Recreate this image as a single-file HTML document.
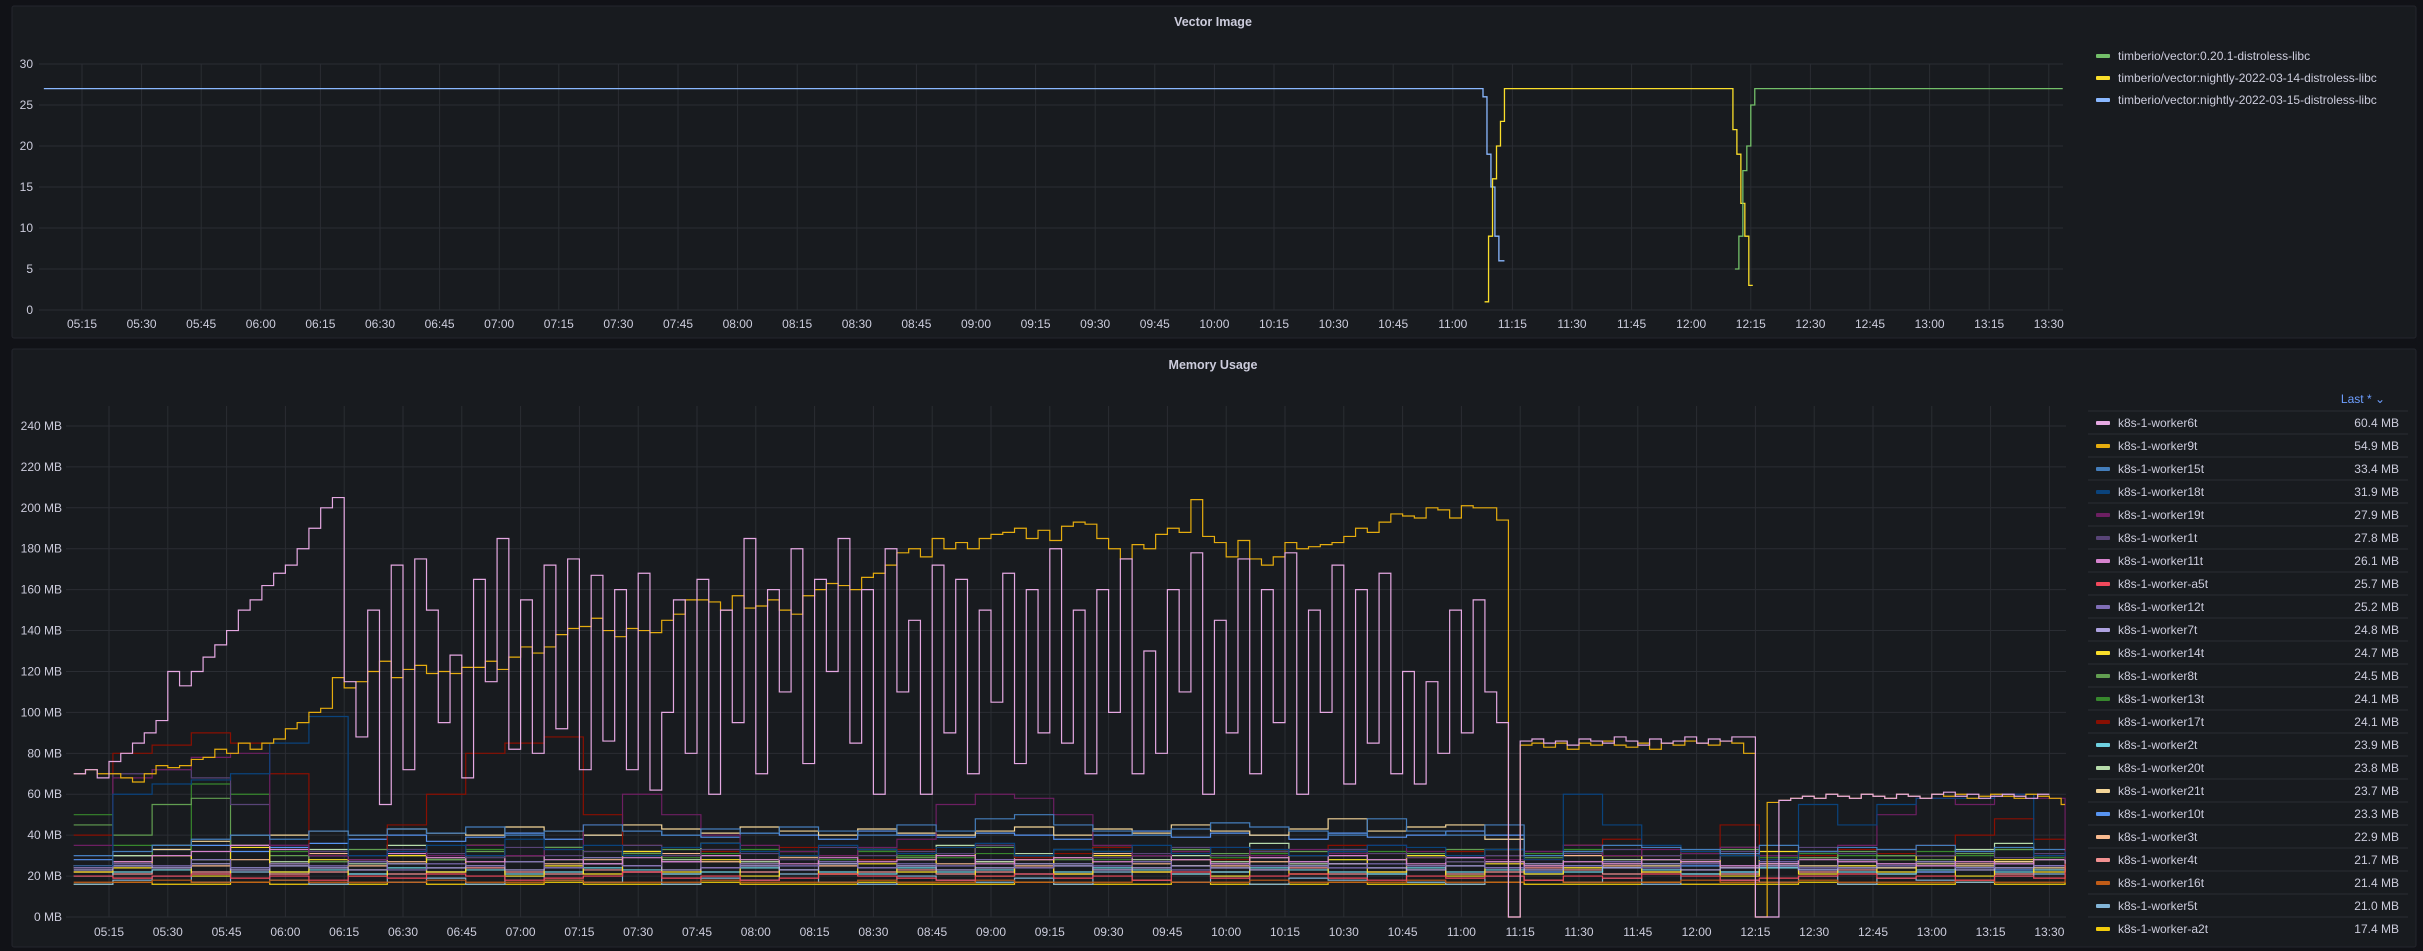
<!DOCTYPE html>
<html><head><meta charset="utf-8"><style>
html,body{margin:0;padding:0;background:#111217;}
svg{display:block;font-family:"Liberation Sans",sans-serif;}
</style></head><body>
<svg id="s" width="2423" height="951" viewBox="0 0 2423 951" xmlns="http://www.w3.org/2000/svg">
<rect x="0" y="0" width="2423" height="951" fill="#111217"/>
<rect x="12" y="6" width="2404" height="332" rx="2" fill="#181b1f" stroke="#24262d"/>
<rect x="12" y="349" width="2404" height="598" rx="2" fill="#181b1f" stroke="#24262d"/>
<text x="1213" y="26" text-anchor="middle" fill="#ccccdc" font-size="12.5" font-weight="bold">Vector Image</text>
<text x="1213" y="369" text-anchor="middle" fill="#ccccdc" font-size="12.5" font-weight="bold">Memory Usage</text>
<g id="topchart"></g><g id="botchart"></g><g id="legs"></g>
</svg>
<script>
// ---------- top chart data (t = minutes after 05:00) ----------
const topNames=["timberio/vector:0.20.1-distroless-libc","timberio/vector:nightly-2022-03-14-distroless-libc","timberio/vector:nightly-2022-03-15-distroless-libc"];
const topColors=["#73bf69","#fade2a","#8ab8ff"];
const greenT=[431,432,433,434,435,436,513.5];
const greenV=[5,9,17,20,25,27,27];
const yellowT=[368,369,370,371,372,373,430.5,431.5,432.5,433.5,434.5,435.5];
const yellowV=[1,9,16,20,23,27,22,19,13,9,3,3];
const blueT=[5.4,367.6,368.6,369.6,370.6,371.6,373];
const blueV=[27,26,19,15,9,6,6];
const topYTicks=[0,5,10,15,20,25,30];
const timeTicks=["05:15","05:30","05:45","06:00","06:15","06:30","06:45","07:00","07:15","07:30","07:45","08:00","08:15","08:30","08:45","09:00","09:15","09:30","09:45","10:00","10:15","10:30","10:45","11:00","11:15","11:30","11:45","12:00","12:15","12:30","12:45","13:00","13:15","13:30"];

// ---------- bottom chart data ----------
const botYTicks=[0,20,40,60,80,100,120,140,160,180,200,220,240];
const names=["k8s-1-worker6t","k8s-1-worker9t","k8s-1-worker15t","k8s-1-worker18t","k8s-1-worker19t","k8s-1-worker1t","k8s-1-worker11t","k8s-1-worker-a5t","k8s-1-worker12t","k8s-1-worker7t","k8s-1-worker14t","k8s-1-worker8t","k8s-1-worker13t","k8s-1-worker17t","k8s-1-worker2t","k8s-1-worker20t","k8s-1-worker21t","k8s-1-worker10t","k8s-1-worker3t","k8s-1-worker4t","k8s-1-worker16t","k8s-1-worker5t","k8s-1-worker-a2t"];
const lastVals=["60.4 MB","54.9 MB","33.4 MB","31.9 MB","27.9 MB","27.8 MB","26.1 MB","25.7 MB","25.2 MB","24.8 MB","24.7 MB","24.5 MB","24.1 MB","24.1 MB","23.9 MB","23.8 MB","23.7 MB","23.3 MB","22.9 MB","21.7 MB","21.4 MB","21.0 MB","17.4 MB"];
const colors=["#e5a8e2","#e5ac0e","#447ebc","#0a437c","#6d1f62","#584477","#d683ce","#f2495c","#806eb7","#aea2e0","#fade2a","#629e51","#37872d","#890f02","#6ed0e0","#b7dbab","#f4d598","#5794f2","#f9ba8f","#f29191","#c15c17","#82b5d8","#f2cc0c"];
// 3-minute samples from 05:06
const w6=[70,72,68,76,80,85,90,96,120,113,120,127,133,140,150,155,162,168,172,180,190,200,
205,115,
88,150,55,172,72,175,150,95,128,68,165,115,185,82,155,80,172,92,175,72,167,86,160,72,168,62,100,155,80,165,60,150,95,185,70,160,110,180,75,165,120,185,85,160,60,180,110,145,60,172,90,165,70,150,105,168,75,160,90,180,85,150,70,160,100,175,70,130,80,160,110,178,60,145,90,175,70,160,95,178,60,150,100,172,65,160,85,168,70,120,65,115,80,150,90,155,110,95,
0,86,87,85,86,84,87,86,85,88,86,84,87,85,86,88,85,87,86,88,88,0,0,57,58,59,58,60,59,58,60,59,58,60,59,58,60,61,59,60,58,59,60,59,58,60];
const w9=[70,72,70,70,68,66,70,74,73,74,77,78,82,80,85,82,85,87,92,95,100,102,117,112,115,120,125,117,121,123,119,120,119,122,122,125,121,127,132,129,132,138,141,142,146,140,137,141,140,139,145,148,155,155,154,150,157,151,152,155,150,148,157,160,163,162,160,166,168,172,178,180,176,185,180,183,180,185,187,188,190,185,189,184,191,193,192,185,180,175,182,180,187,190,188,204,186,183,176,184,175,172,176,183,180,181,182,183,186,190,188,193,197,196,195,200,199,195,201,200,200,194,
0,84,85,83,85,82,85,84,86,84,83,85,82,85,84,86,85,84,86,85,80,0,56,57,58,59,58,60,59,58,60,59,58,60,59,58,60,59,60,58,59,60,59,58,60,59,58,55];
// 10-minute samples from 05:06
const w15=[30,32,35,38,40,38,42,40,43,41,44,40,42,45,42,40,43,41,44,42,40,45,42,48,50,45,42,40,43,46,44,42,40,48,42,40,45,30,32,35,34,33,31,35,32,34,33,35,32,34,33,33];
const w18=[25,60,65,67,70,85,98,30,32,35,30,38,33,35,30,34,36,32,30,35,33,31,34,36,30,33,32,35,31,34,33,30,32,35,34,30,33,28,60,45,35,32,30,28,55,45,55,58,58,60,30,32];
const w19=[35,68,72,78,80,35,30,28,32,30,35,30,33,45,60,50,40,35,32,30,34,38,55,60,58,50,35,30,32,34,30,33,31,35,32,30,28,32,35,30,33,31,34,30,32,35,50,58,55,60,58,28];
const w1=[30,70,72,68,55,35,32,30,33,31,29,34,30,32,35,30,33,31,28,34,30,32,31,35,30,33,29,31,34,30,32,30,33,31,29,27,30,32,31,33,30,28,32,30,34,31,33,30,32,29,31,28];
const w11=[25,27,30,32,35,33,30,28,31,29,27,30,28,26,29,27,30,28,26,29,27,28,30,26,28,29,27,30,28,26,29,27,30,28,26,29,27,25,27,26,28,27,25,26,28,27,26,25,27,26,28,26];
const wa5=[20,19,20,21,19,20,18,20,19,21,20,18,19,20,22,19,20,18,19,21,20,19,18,20,21,19,20,18,22,19,20,21,19,18,20,19,20,18,20,19,21,20,18,19,20,21,19,20,18,20,19,26];
const w12=[24,26,25,28,24,26,25,27,23,26,25,27,24,29,25,27,24,26,25,27,24,26,25,28,24,26,25,27,23,26,25,27,24,26,25,29,24,26,25,27,24,26,25,27,24,28,25,27,24,26,25,25];
const w7=[23,25,24,26,23,25,24,23,26,24,25,23,24,26,25,23,24,25,23,26,24,25,23,24,26,25,23,24,25,24,23,25,26,24,23,25,24,23,25,24,26,23,24,25,23,24,26,25,23,24,25,25];
const w14=[22,24,30,20,34,22,28,20,30,22,35,20,25,21,32,22,28,20,30,21,26,22,34,20,28,21,30,22,25,20,32,21,28,22,30,20,26,21,24,30,22,28,20,32,21,25,22,30,20,28,22,25];
const w8=[45,40,55,58,35,30,27,33,30,28,32,30,34,29,31,33,30,28,32,30,33,29,31,34,30,28,32,30,33,31,29,32,30,28,31,33,30,29,32,30,28,31,33,30,29,32,30,28,31,33,30,24];
const w13=[50,35,30,65,60,32,30,28,31,29,33,30,28,32,30,29,31,33,30,28,32,30,29,31,30,33,28,30,32,29,31,30,28,32,30,29,27,31,33,30,28,32,30,29,31,30,28,32,30,33,29,24];
const w17=[40,80,84,90,85,70,30,28,45,60,80,85,88,50,35,30,32,28,34,30,28,33,30,35,29,31,34,30,32,28,33,30,35,31,29,32,30,28,35,38,30,32,45,28,30,33,31,35,40,48,38,24];
const w2=[20,22,23,21,24,22,23,21,24,22,23,21,22,24,23,21,22,24,23,22,21,24,22,23,21,22,24,23,21,22,24,23,22,21,24,22,23,21,22,24,23,21,22,24,23,22,21,23,24,22,23,24];
const w20=[25,30,35,28,40,27,33,26,35,28,30,27,34,26,32,28,36,27,30,26,33,28,35,27,31,26,34,28,30,27,36,26,32,28,30,27,33,26,35,28,30,27,34,26,32,28,30,27,33,36,28,24];
const w21=[25,30,33,37,35,40,42,40,43,41,40,44,42,40,45,43,41,44,42,40,43,41,40,42,44,40,43,41,45,42,40,43,48,42,44,45,38,25,24,26,25,27,24,26,25,28,24,26,25,27,24,24];
const w10=[28,30,33,35,32,34,36,38,40,37,39,41,38,40,42,40,39,41,40,38,42,40,39,41,40,38,40,42,39,41,40,38,41,39,40,42,40,22,25,24,23,25,22,24,23,25,24,22,24,23,25,23];
const w3=[24,27,30,25,28,26,31,25,27,29,25,30,26,28,25,31,27,26,29,25,28,30,26,27,25,29,31,26,28,25,27,30,26,28,25,29,27,26,30,25,28,27,31,26,29,25,28,30,26,27,25,23];
const w4=[22,21,23,22,24,21,22,23,21,22,24,22,21,23,22,21,24,22,23,21,22,23,21,22,24,21,23,22,21,22,23,24,21,22,23,21,22,24,23,21,22,23,21,24,22,23,21,22,24,21,23,22];
const w16=[17,17,18,17,17,18,17,17,17,18,17,17,18,17,17,17,18,17,17,17,18,17,17,18,17,17,17,18,17,17,18,17,17,17,18,17,17,18,17,17,17,18,17,17,18,17,17,17,18,17,17,21];
const w5=[16,18,20,17,22,18,16,21,17,19,16,20,18,17,22,16,19,18,21,17,16,20,18,17,19,16,22,18,17,20,16,19,18,21,17,16,20,18,17,19,16,21,18,17,20,16,19,18,17,20,21,21];
const wa2=[16,17,16,16,17,16,16,16,17,16,16,16,17,16,16,16,17,16,16,16,17,16,16,16,17,16,16,16,17,16,16,16,17,16,16,16,17,16,16,16,17,16,16,16,17,16,16,16,17,16,16,17];

const NS="http://www.w3.org/2000/svg";
function mk(tag,attrs,parent){const e=document.createElementNS(NS,tag);for(const k in attrs)e.setAttribute(k,attrs[k]);parent.appendChild(e);return e;}
function tickMin(s){const p=s.split(":");return (+p[0]-5)*60+(+p[1]);}
function stepPath(T,V,fx,fy){let d='';for(let i=0;i<T.length;i++){const x=fx(T[i]),y=fy(V[i]);if(i===0)d+='M'+x+' '+y;else{d+=' L'+x+' '+fy(V[i-1])+' L'+x+' '+y;}}return d;}

// ---------- top chart ----------
const TX0=82,TPX=59.6/15,TY0=310,TPY=246/30;
function tx(t){return TX0+(t-15)*TPX;}
function ty(v){return TY0-v*TPY;}
const topG=document.getElementById('topchart');
topYTicks.forEach(v=>{
  const l=mk('line',{x1:39,x2:2063,y1:ty(v),y2:ty(v),stroke:'#2a2d33','stroke-width':1},topG);
  
  
  const t=mk('text',{x:33,y:ty(v)+4,'text-anchor':'end',fill:'#ccccdc','font-size':12},topG);
  t.textContent=v;
  
  
});
timeTicks.forEach(s=>{
  const x=tx(tickMin(s));
  const l=mk('line',{x1:x,x2:x,y1:64,y2:310,stroke:'#2a2d33','stroke-width':1},topG);
  
  
  const t=mk('text',{x:x,y:328,'text-anchor':'middle',fill:'#ccccdc','font-size':12},topG);
  t.textContent=s;
  
  
});
[[blueT,blueV,2],[yellowT,yellowV,1],[greenT,greenV,0]].forEach(([T,V,ci])=>{
  const p=mk('path',{d:stepPath(T,V,tx,ty),fill:'none',stroke:topColors[ci],'stroke-width':1.3},topG);
  
  
});
const legs=document.getElementById('legs');
topNames.forEach((n,i)=>{
  const y=56+22*i;
  const g=mk('g',{},legs);
  
  
  mk('rect',{x:2096,y:y-2,width:14,height:4,rx:1,fill:topColors[i]},g);
  const t=mk('text',{x:2118,y:y+4,fill:'#ccccdc','font-size':12},g);
  t.textContent=n;
});

// ---------- bottom chart ----------
const BX0=109,BPX=58.8/15,BY0=917,BPY=2.046;
function bx(t){return BX0+(t-15)*BPX;}
function by(v){return BY0-v*BPY;}
const botG=document.getElementById('botchart');
botYTicks.forEach(v=>{
  const l=mk('line',{x1:66,x2:2066,y1:by(v),y2:by(v),stroke:'#2a2d33','stroke-width':1},botG);
  
  
  const t=mk('text',{x:62,y:by(v)+4,'text-anchor':'end',fill:'#ccccdc','font-size':12},botG);
  t.textContent=v+' MB';
  
  
});
timeTicks.forEach(s=>{
  const x=bx(tickMin(s));
  const l=mk('line',{x1:x,x2:x,y1:406,y2:917,stroke:'#2a2d33','stroke-width':1},botG);
  
  
  const t=mk('text',{x:x,y:936,'text-anchor':'middle',fill:'#ccccdc','font-size':12},botG);
  t.textContent=s;
  
  
});
const series=[w6,w9,w15,w18,w19,w1,w11,wa5,w12,w7,w14,w8,w13,w17,w2,w20,w21,w10,w3,w4,w16,w5,wa2];
const drawOrder=[22,21,20,19,18,17,16,15,14,13,12,11,10,9,8,7,6,5,4,3,2,1,0];
drawOrder.forEach(si=>{
  const V=series[si];
  const step=(si<2)?3:10;
  const T=V.map((_,i)=>6+step*i);
  T.push(6+step*V.length);
  const V2=V.concat([V[V.length-1]]);
  const p=mk('path',{d:stepPath(T,V2,t=>bx(Math.min(t,514)),by),fill:'none',stroke:colors[si],'stroke-width':1.2},botG);
  
  
});
// legend table
const hdr=mk('text',{x:2385,y:403,'text-anchor':'end',fill:'#6e9fff','font-size':12},legs);
hdr.textContent='Last * ⌄';


names.forEach((n,i)=>{
  const y=423+23*i;
  const sep=mk('line',{x1:2088,x2:2408,y1:y-12,y2:y-12,stroke:'#2a2d33','stroke-width':1},legs);
  
  
  const g=mk('g',{},legs);
  
  
  mk('rect',{x:2096,y:y-2,width:14,height:4,rx:1,fill:colors[i]},g);
  const t=mk('text',{x:2118,y:y+4,fill:'#ccccdc','font-size':12},g);
  t.textContent=n;
  const v=mk('text',{x:2399,y:y+4,'text-anchor':'end',fill:'#ccccdc','font-size':12},g);
  v.textContent=lastVals[i];
});
</script>
</body></html>
